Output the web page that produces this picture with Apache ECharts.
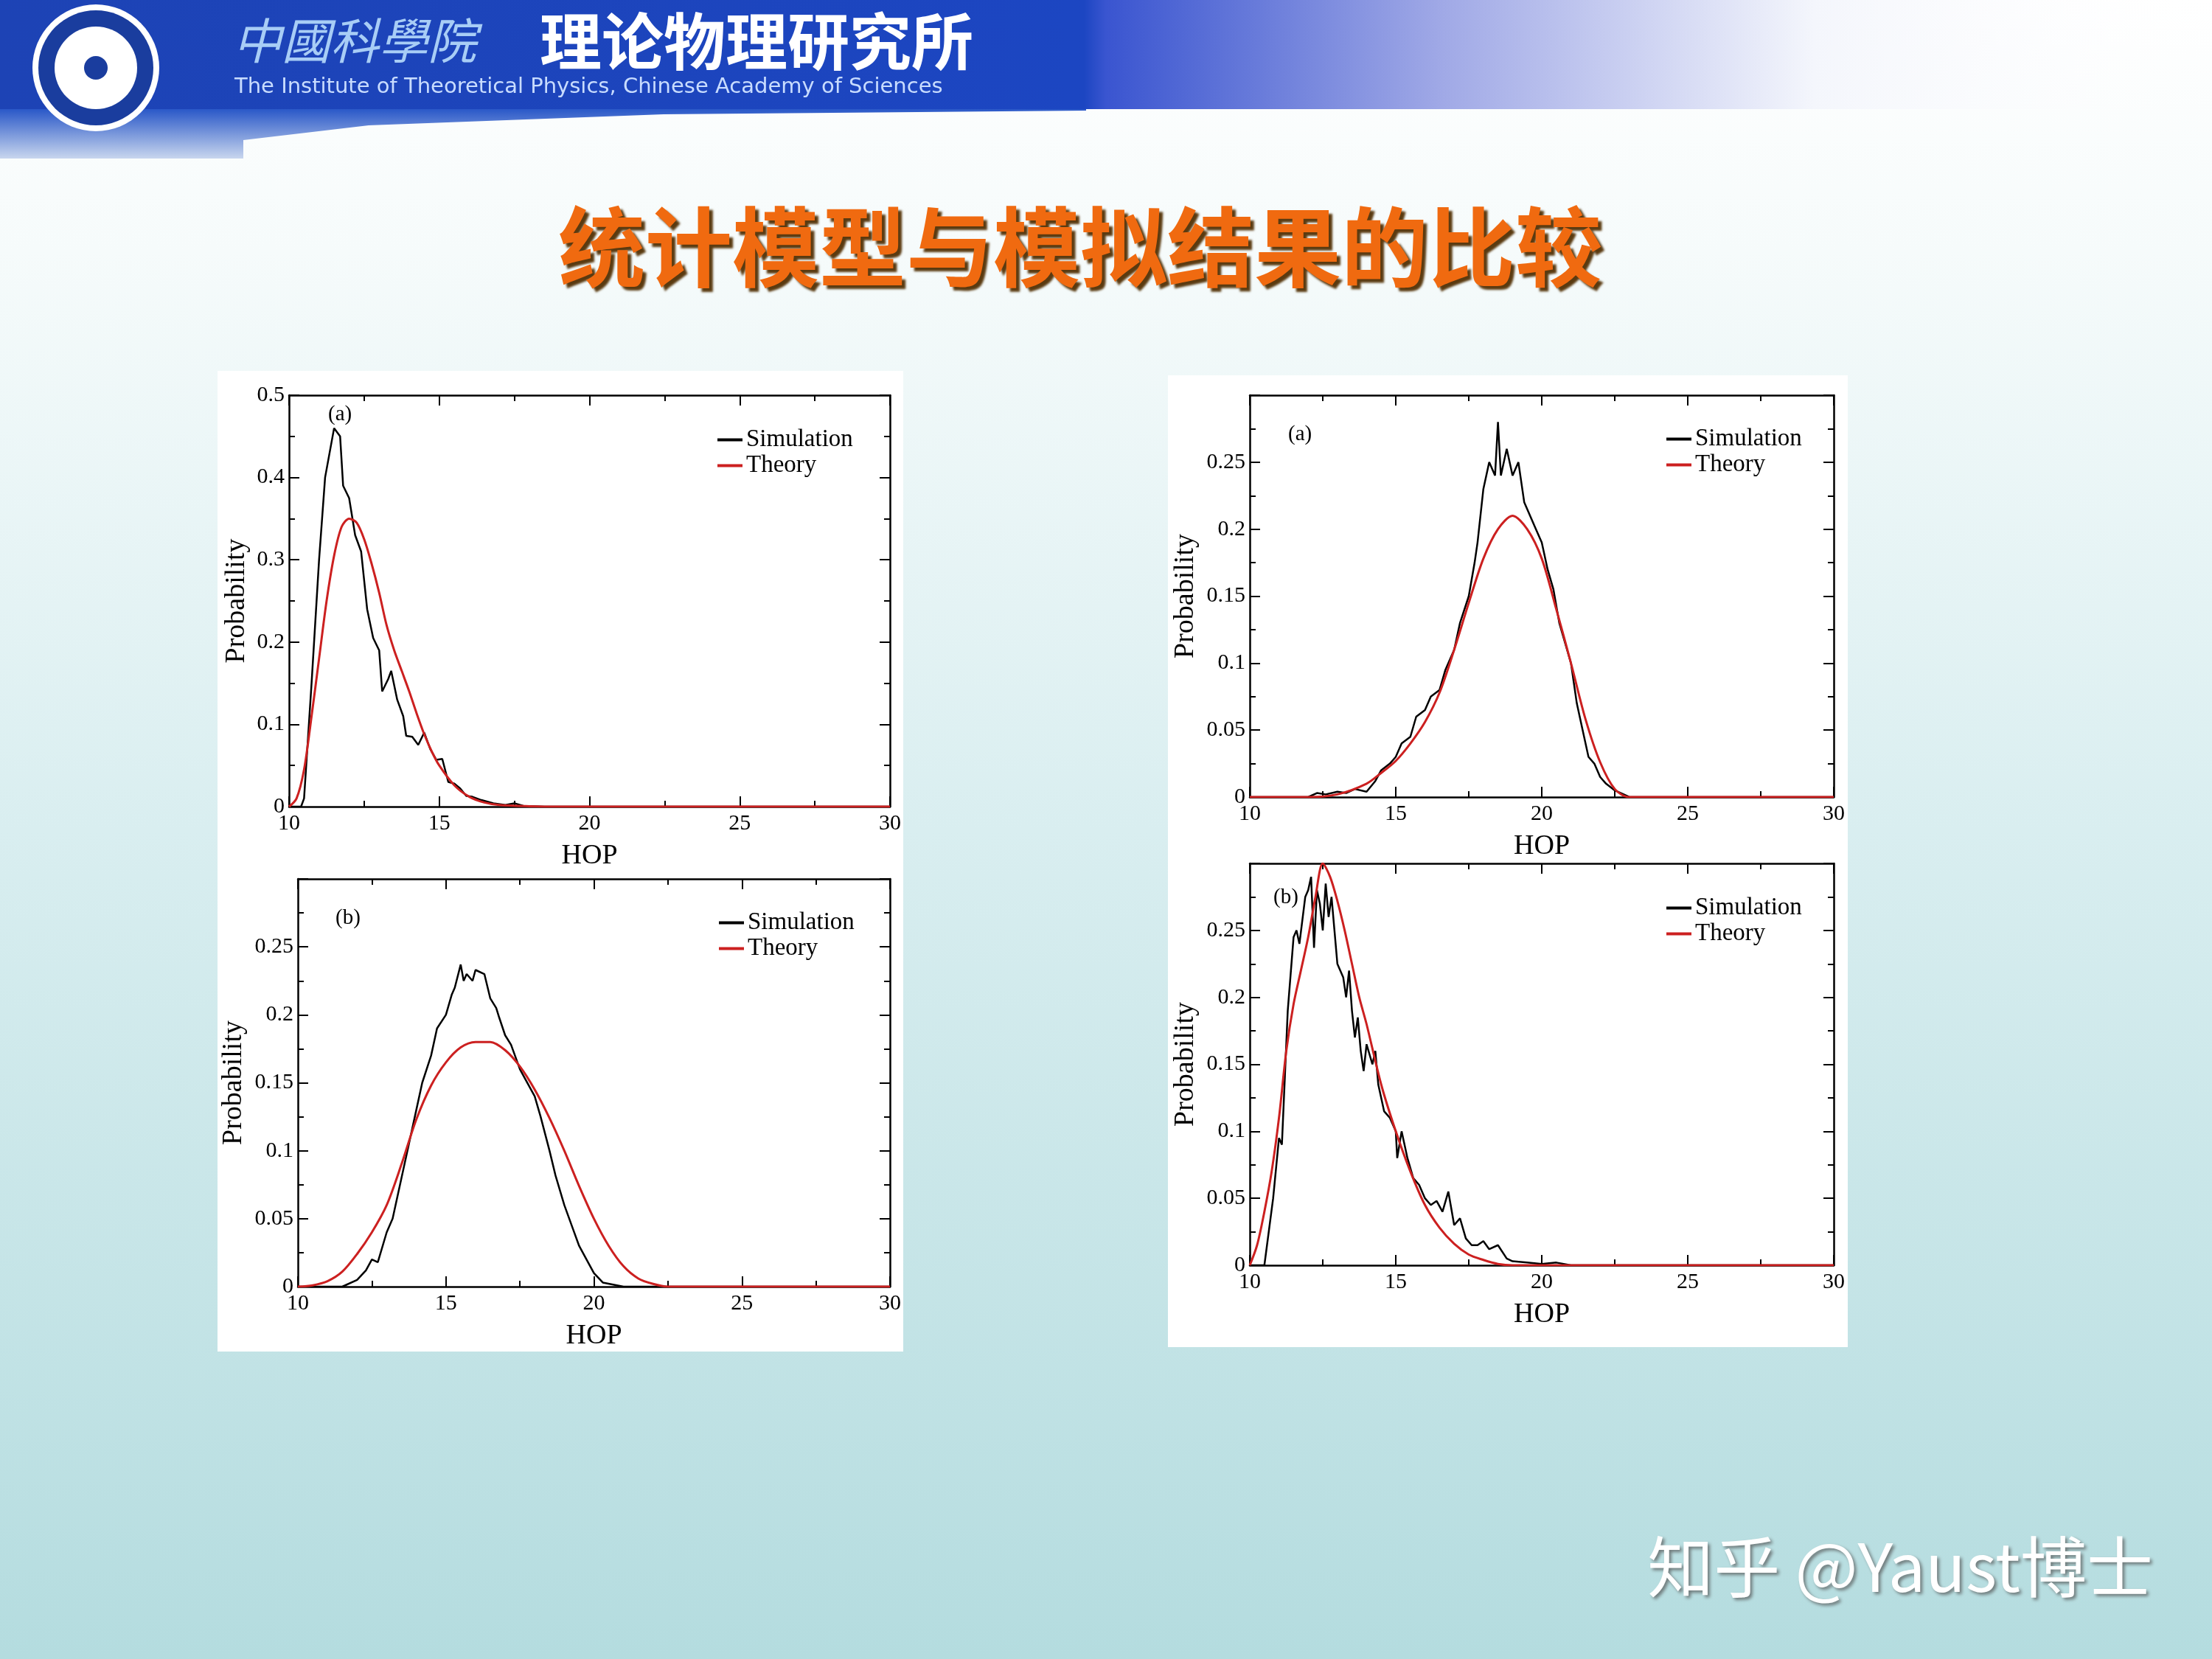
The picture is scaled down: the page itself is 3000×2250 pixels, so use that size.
<!DOCTYPE html>
<html>
<head>
<meta charset="utf-8">
<script src="https://cdn.jsdelivr.net/npm/echarts@6/dist/echarts.min.js"></script>
<style>html,body{margin:0;padding:0;}#main{width:3000px;height:2250px;}</style>
</head>
<body>
<div id="main"></div>
<script>
// ---- data: [HOP, probability] ----
var simA1 = [[10,0],[10.4,0],[10.5,0.01],[10.75,0.15],[11,0.3],[11.2,0.4],[11.5,0.46],[11.7,0.45],[11.8,0.39],[12,0.375],[12.2,0.33],[12.4,0.31],[12.6,0.24],[12.8,0.205],[13,0.19],[13.1,0.14],[13.3,0.155],[13.4,0.165],[13.6,0.13],[13.8,0.11],[13.9,0.086],[14.1,0.085],[14.3,0.075],[14.5,0.09],[14.7,0.07],[14.9,0.057],[15.1,0.058],[15.3,0.03],[15.5,0.028],[15.7,0.022],[15.9,0.013],[16.1,0.012],[16.4,0.008],[16.8,0.004],[17.2,0.002],[17.5,0.004],[17.8,0.001],[18.5,0],[30,0]];
var theoA1 = [[10,0],[10.25,0.01],[10.5,0.045],[10.75,0.11],[11,0.18],[11.25,0.25],[11.5,0.305],[11.75,0.34],[12,0.35],[12.25,0.345],[12.5,0.325],[12.75,0.295],[13,0.26],[13.25,0.22],[13.5,0.19],[13.75,0.165],[14,0.14],[14.25,0.113],[14.5,0.088],[14.75,0.067],[15,0.05],[15.5,0.026],[16,0.012],[16.5,0.005],[17,0.002],[18,0.0005],[19,0],[30,0]];
var simB1 = [[10,0],[11.5,0],[12,0.005],[12.3,0.012],[12.5,0.02],[12.7,0.018],[13,0.04],[13.2,0.05],[13.5,0.08],[13.7,0.1],[14,0.13],[14.2,0.15],[14.5,0.17],[14.7,0.19],[15,0.2],[15.2,0.215],[15.3,0.22],[15.5,0.237],[15.6,0.225],[15.7,0.23],[15.9,0.225],[16,0.233],[16.3,0.23],[16.5,0.212],[16.7,0.205],[16.8,0.198],[17,0.185],[17.2,0.178],[17.5,0.16],[17.7,0.152],[18,0.14],[18.2,0.125],[18.5,0.1],[18.7,0.082],[19,0.06],[19.3,0.042],[19.5,0.03],[19.8,0.018],[20,0.01],[20.3,0.003],[21,0],[30,0]];
var theoB1 = [[10,0],[10.5,0.001],[11,0.004],[11.5,0.011],[12,0.024],[12.5,0.04],[13,0.06],[13.5,0.09],[14,0.123],[14.5,0.148],[15,0.165],[15.5,0.176],[16,0.18],[16.5,0.18],[17,0.174],[17.5,0.162],[18,0.145],[18.5,0.124],[19,0.1],[19.5,0.074],[20,0.05],[20.5,0.03],[21,0.015],[21.5,0.006],[22,0.002],[22.5,0],[30,0]];
var simA2 = [[10,0],[12,0],[12.3,0.003],[12.6,0.002],[13,0.004],[13.3,0.003],[13.6,0.006],[14,0.004],[14.3,0.012],[14.5,0.02],[14.8,0.025],[15,0.03],[15.2,0.04],[15.5,0.045],[15.7,0.06],[16,0.065],[16.2,0.075],[16.5,0.08],[16.7,0.095],[17,0.11],[17.2,0.13],[17.5,0.15],[17.7,0.175],[17.8,0.19],[18,0.23],[18.2,0.25],[18.4,0.24],[18.5,0.28],[18.6,0.24],[18.8,0.26],[19,0.24],[19.2,0.25],[19.4,0.22],[19.6,0.21],[19.8,0.2],[20,0.19],[20.2,0.17],[20.4,0.155],[20.6,0.13],[20.8,0.115],[21,0.1],[21.2,0.07],[21.4,0.05],[21.6,0.03],[21.8,0.025],[22,0.015],[22.2,0.01],[22.5,0.005],[23,0],[30,0]];
var theoA2 = [[10,0],[12,0],[13,0.002],[14,0.01],[14.5,0.018],[15,0.027],[15.5,0.04],[16,0.056],[16.5,0.078],[17,0.11],[17.5,0.145],[18,0.178],[18.5,0.2],[19,0.21],[19.5,0.2],[20,0.178],[20.5,0.14],[21,0.1],[21.5,0.058],[22,0.026],[22.5,0.006],[23,0],[30,0]];
var simB2 = [[10,0],[10.5,0],[10.8,0.05],[11,0.095],[11.1,0.09],[11.3,0.19],[11.5,0.245],[11.6,0.25],[11.7,0.24],[11.9,0.275],[12,0.28],[12.1,0.29],[12.2,0.237],[12.3,0.28],[12.4,0.27],[12.5,0.25],[12.6,0.285],[12.7,0.26],[12.8,0.275],[12.9,0.25],[13,0.225],[13.2,0.215],[13.3,0.2],[13.4,0.22],[13.5,0.19],[13.6,0.17],[13.7,0.185],[13.8,0.16],[13.9,0.145],[14,0.165],[14.2,0.15],[14.3,0.16],[14.4,0.135],[14.6,0.115],[14.8,0.11],[15,0.1],[15.05,0.08],[15.2,0.1],[15.4,0.08],[15.6,0.065],[15.8,0.06],[16,0.05],[16.2,0.045],[16.4,0.048],[16.6,0.04],[16.8,0.055],[17,0.03],[17.2,0.035],[17.4,0.02],[17.6,0.015],[17.8,0.015],[18,0.018],[18.2,0.012],[18.5,0.015],[18.8,0.005],[19,0.003],[19.5,0.002],[20,0.001],[20.5,0.002],[21,0],[30,0]];
var theoB2 = [[10,0],[10.25,0.015],[10.5,0.04],[10.75,0.07],[11,0.11],[11.25,0.16],[11.5,0.195],[11.75,0.22],[12,0.245],[12.25,0.275],[12.5,0.3],[12.75,0.29],[13,0.272],[13.25,0.25],[13.5,0.225],[13.75,0.2],[14,0.18],[14.5,0.135],[15,0.1],[15.5,0.07],[16,0.045],[16.5,0.028],[17,0.016],[17.5,0.008],[18,0.004],[18.5,0.001],[19,0],[30,0]];
var panelTags = ['(a)', '(b)', '(a)', '(b)'];
var seriesNames = ['Simulation', 'Theory'];

var chart = echarts.init(document.getElementById('main'));
var serif = 'Liberation Serif';

var panels = [
  {grid: {left: 392, top: 536, width: 815, height: 558}, ymax: 0.5, yint: 0.1, sim: simA1, theo: theoA1, leg: [968, 575], tag: [440, 543]},
  {grid: {left: 404, top: 1192, width: 803, height: 553}, ymax: 0.3, yint: 0.05, sim: simB1, theo: theoB1, leg: [970, 1230], tag: [450, 1226]},
  {grid: {left: 1695, top: 536, width: 792, height: 545}, ymax: 0.3, yint: 0.05, sim: simA2, theo: theoA2, leg: [2255, 574], tag: [1742, 570]},
  {grid: {left: 1695, top: 1171, width: 792, height: 545}, ymax: 0.3, yint: 0.05, sim: simB2, theo: theoB2, leg: [2255, 1210], tag: [1722, 1198]}
];

var grids = [], xAxes = [], yAxes = [], series = [], legends = [], titles = [];
var axisLine = {show: true, onZero: false, lineStyle: {color: '#000', width: 2.5}};
var tick = {show: true, inside: true, length: 14, lineStyle: {color: '#000', width: 2}};
var minor = {show: true, splitNumber: 2, length: 8, lineStyle: {color: '#000', width: 2}};

panels.forEach(function (p, i) {
  grids.push(p.grid);
  var base = {type: 'value', gridIndex: i, min: 10, max: 30, interval: 5,
    axisLine: axisLine, axisTick: tick, minorTick: minor, splitLine: {show: false}};
  xAxes.push(Object.assign({}, base, {position: 'bottom', name: 'HOP', nameLocation: 'middle', nameGap: 48,
    nameTextStyle: {fontFamily: serif, fontSize: 38, color: '#000'},
    axisLabel: {fontFamily: serif, fontSize: 30, color: '#000', margin: 8}}));
  xAxes.push(Object.assign({}, base, {position: 'top', axisLabel: {show: false}}));
  var ybase = {type: 'value', gridIndex: i, min: 0, max: p.ymax, interval: p.yint,
    axisLine: axisLine, axisTick: tick, minorTick: minor, splitLine: {show: false}};
  yAxes.push(Object.assign({}, ybase, {position: 'left', name: 'Probability', nameLocation: 'middle', nameRotate: 90,
    nameGap: p.yint === 0.1 ? 52 : 68,
    nameTextStyle: {fontFamily: serif, fontSize: 38, color: '#000'},
    axisLabel: {fontFamily: serif, fontSize: 30, color: '#000', margin: 6,
      formatter: function (v) { return (Math.abs(v - 0.3) < 1e-9 && p.ymax === 0.3) ? '' : String(+v.toFixed(2)); }}}));
  yAxes.push(Object.assign({}, ybase, {position: 'right', axisLabel: {show: false}}));
  series.push({name: seriesNames[0], type: 'line', xAxisIndex: 2 * i, yAxisIndex: 2 * i, data: p.sim,
    showSymbol: false, lineStyle: {color: '#000', width: 2.5}, itemStyle: {color: '#000'}, z: 3});
  series.push({name: seriesNames[1], type: 'line', xAxisIndex: 2 * i, yAxisIndex: 2 * i, data: p.theo,
    showSymbol: false, smooth: 0.3, lineStyle: {color: '#cc2020', width: 3}, itemStyle: {color: '#cc2020'}, z: 4});
  legends.push({data: seriesNames, orient: 'vertical', left: p.leg[0], top: p.leg[1], itemGap: 2,
    itemWidth: 34, itemHeight: 4, icon: 'rect', selectedMode: false,
    textStyle: {fontFamily: serif, fontSize: 33, color: '#000'}});
  titles.push({text: panelTags[i], left: p.tag[0], top: p.tag[1],
    textStyle: {fontFamily: serif, fontSize: 29, fontWeight: 'normal', color: '#000'}});
});

var graphics = [
  // header banner
  {type: 'rect', shape: {x: 0, y: 0, width: 3000, height: 148}, z: -10,
    style: {fill: new echarts.graphic.LinearGradient(0, 0, 1, 0, [
      {offset: 0, color: '#1d43b5'}, {offset: 0.49, color: '#1c46c2'}, {offset: 0.5, color: '#3a55d0'},
      {offset: 0.65, color: '#9fa8e6'}, {offset: 0.82, color: '#f4f6fc'}, {offset: 1, color: 'rgba(255,255,255,0)'}])}},
  {type: 'polygon', shape: {points: [[0, 148], [1473, 148], [1473, 150], [900, 155], [500, 170], [330, 190], [330, 215], [0, 215]]}, z: -9,
    style: {fill: new echarts.graphic.LinearGradient(0, 0, 0, 1, [{offset: 0, color: '#2a58c8'}, {offset: 1, color: '#c8d6ee'}])}},
  {type: 'circle', shape: {cx: 130, cy: 92, r: 86}, z: -8, style: {fill: '#ffffff'}},
  {type: 'circle', shape: {cx: 130, cy: 92, r: 78}, z: -8, style: {fill: '#1a3d9e'}},
  {type: 'circle', shape: {cx: 130, cy: 92, r: 56}, z: -8, style: {fill: '#ffffff'}},
  {type: 'circle', shape: {cx: 130, cy: 92, r: 16}, z: -8, style: {fill: '#1a3d9e'}},
  {type: 'text', left: 316, top: 22, z: 5, style: {text: '中國科學院', fill: '#a8cdf6', font: 'italic 66px "Noto Sans CJK TC"'}},
  {type: 'text', left: 732, top: 14, z: 5, style: {text: '理论物理研究所', fill: '#ffffff', font: 'bold 84px "Noto Sans CJK SC"'}},
  {type: 'text', left: 318, top: 104, z: 5, style: {text: 'The Institute of Theoretical Physics, Chinese Academy of Sciences', fill: '#c8dcff', font: '29px "DejaVu Sans"'}},
  // title
  {type: 'text', x: 1465, y: 335, z: 5, style: {text: '统计模型与模拟结果的比较', align: 'center', verticalAlign: 'middle',
    font: 'bold 118px "Noto Sans CJK SC"', fill: '#f06a10', textShadowColor: '#5a3a10', textShadowOffsetX: 5, textShadowOffsetY: 5, textShadowBlur: 3}},
  // white panels
  {type: 'rect', shape: {x: 295, y: 503, width: 930, height: 1330}, z: -5, style: {fill: '#ffffff'}},
  {type: 'rect', shape: {x: 1584, y: 509, width: 922, height: 1318}, z: -5, style: {fill: '#ffffff'}},
  // watermark
  {type: 'text', x: 2920, y: 2125, z: 5, style: {text: '知乎 @Yaust博士', align: 'right', verticalAlign: 'middle',
    font: '90px "Noto Sans CJK SC"', fill: '#ffffff', textShadowColor: 'rgba(80,80,80,0.7)', textShadowOffsetX: 3, textShadowOffsetY: 3, textShadowBlur: 4}}
];

chart.setOption({
  animation: false,
  backgroundColor: new echarts.graphic.LinearGradient(0, 0, 0, 1, [
    {offset: 0, color: '#ffffff'}, {offset: 0.15, color: '#f6fbfb'}, {offset: 0.5, color: '#d9eef0'}, {offset: 1, color: '#b4dcdf'}]),
  title: titles,
  legend: legends,
  grid: grids,
  xAxis: xAxes,
  yAxis: yAxes,
  series: series,
  graphic: graphics
});
</script>
</body>
</html>
